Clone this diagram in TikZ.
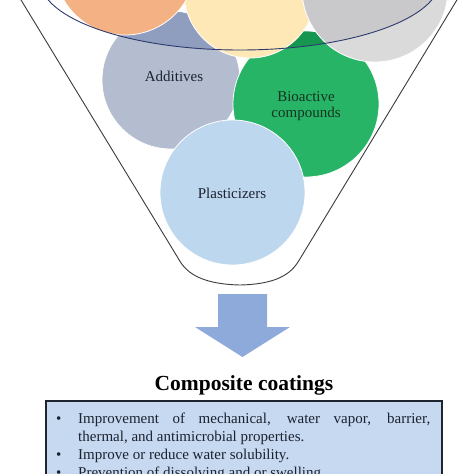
\documentclass[tikz,border=0pt]{standalone}
\usepackage{fontspec}
\setmainfont{Liberation Serif}
\definecolor{orangeC}{HTML}{F4B183}
\definecolor{yellowC}{HTML}{FEE8B6}
\definecolor{grayOut}{HTML}{DADADA}
\definecolor{grayIn}{HTML}{C9C9CB}
\definecolor{addOut}{HTML}{B3BDCF}
\definecolor{addIn}{HTML}{8F9DBF}
\definecolor{greenOut}{HTML}{27B467}
\definecolor{greenIn}{HTML}{179650}
\definecolor{plastC}{HTML}{BDD7EE}
\definecolor{rimC}{HTML}{2E3A6E}
\definecolor{funnelC}{HTML}{3A3A3A}
\definecolor{arrowC}{HTML}{8EAADB}
\definecolor{boxC}{HTML}{C6D9F0}
\definecolor{boxLine}{HTML}{1E2430}
\definecolor{txtC}{HTML}{1C2230}
\definecolor{greenTxt}{HTML}{15331F}
\newcommand{\rimpath}{(240,-20) ellipse [x radius=200pt, y radius=70pt]}
\newcommand{\blobcirc}[4]{%
  \fill[#3] #1 circle (#2);
  \begin{scope}
    \clip \rimpath;
    \fill[#4] #1 circle (#2);
  \end{scope}
  \draw[outl] #1 circle (#2);
}
\begin{document}
\begin{tikzpicture}[x=1pt,y=-1pt,
  outl/.style={draw=white, line width=0.8pt},
  lbl/.style={font=\fontsize{15}{16}\selectfont, text=txtC, align=center, inner sep=0pt},
  funnelline/.style={draw=funnelC, line width=0.9pt},
  rimline/.style={draw=rimC, line width=0.9pt},
]
\useasboundingbox (0,0) rectangle (474,474);
% circles
\blobcirc{(171,80)}{69pt}{addOut}{addIn}
\blobcirc{(306,104)}{73pt}{greenOut}{greenIn}
\blobcirc{(250,-8)}{66pt}{yellowC}{yellowC}
\blobcirc{(375,-11)}{73pt}{grayOut}{grayIn}
\blobcirc{(125,-36)}{71pt}{orangeC}{orangeC}
\blobcirc{(232.5,192.5)}{72.5pt}{plastC}{plastC}
% rim of funnel
\draw[rimline] \rimpath;
% funnel body
\coordinate (fl) at (11.9,-15);
\coordinate (fr) at (466,-15);
\draw[funnelline] (fl) -- (178,258) .. controls (185,271) and (198,284) .. (240,285)
  .. controls (282,284) and (293,271) .. (300.5,258) -- (fr);
% labels
\node[lbl] (additives) at (174,76) {Additives};
\node[lbl, text=greenTxt] (bioactive) at (306,106) {Bioactive\\compounds};
\node[lbl] (plasticizers) at (232,193) {Plasticizers};
% block arrow
\fill[arrowC] (218,294) -- (267,294) -- (267,327) -- (290,327) -- (242.5,357)
  -- (195,327) -- (218,327) -- cycle;
% title
\node[font=\fontsize{21.5}{24}\selectfont\bfseries, text=black, inner sep=0pt] (title) at (244,385) {Composite coatings};
% box
\draw[fill=boxC, draw=boxLine, line width=1.2pt] (46,401) rectangle (442,500);
\node[anchor=north west, inner sep=0pt, text width=374pt, align=justify,
  font=\fontsize{15}{18}\selectfont, text=txtC] (props) at (56,412.5) {%
  \tolerance=10000
  \hangindent=22pt\hangafter=1\noindent\makebox[22pt][l]{\textbullet}Improvement of mechanical, water vapor, barrier,\linebreak thermal, and antimicrobial properties.\par
  \noindent\makebox[22pt][l]{\textbullet}Improve or reduce water solubility.\par
  \noindent\makebox[22pt][l]{\textbullet}Prevention of dissolving and or swelling.\par};
\end{tikzpicture}
\end{document}
